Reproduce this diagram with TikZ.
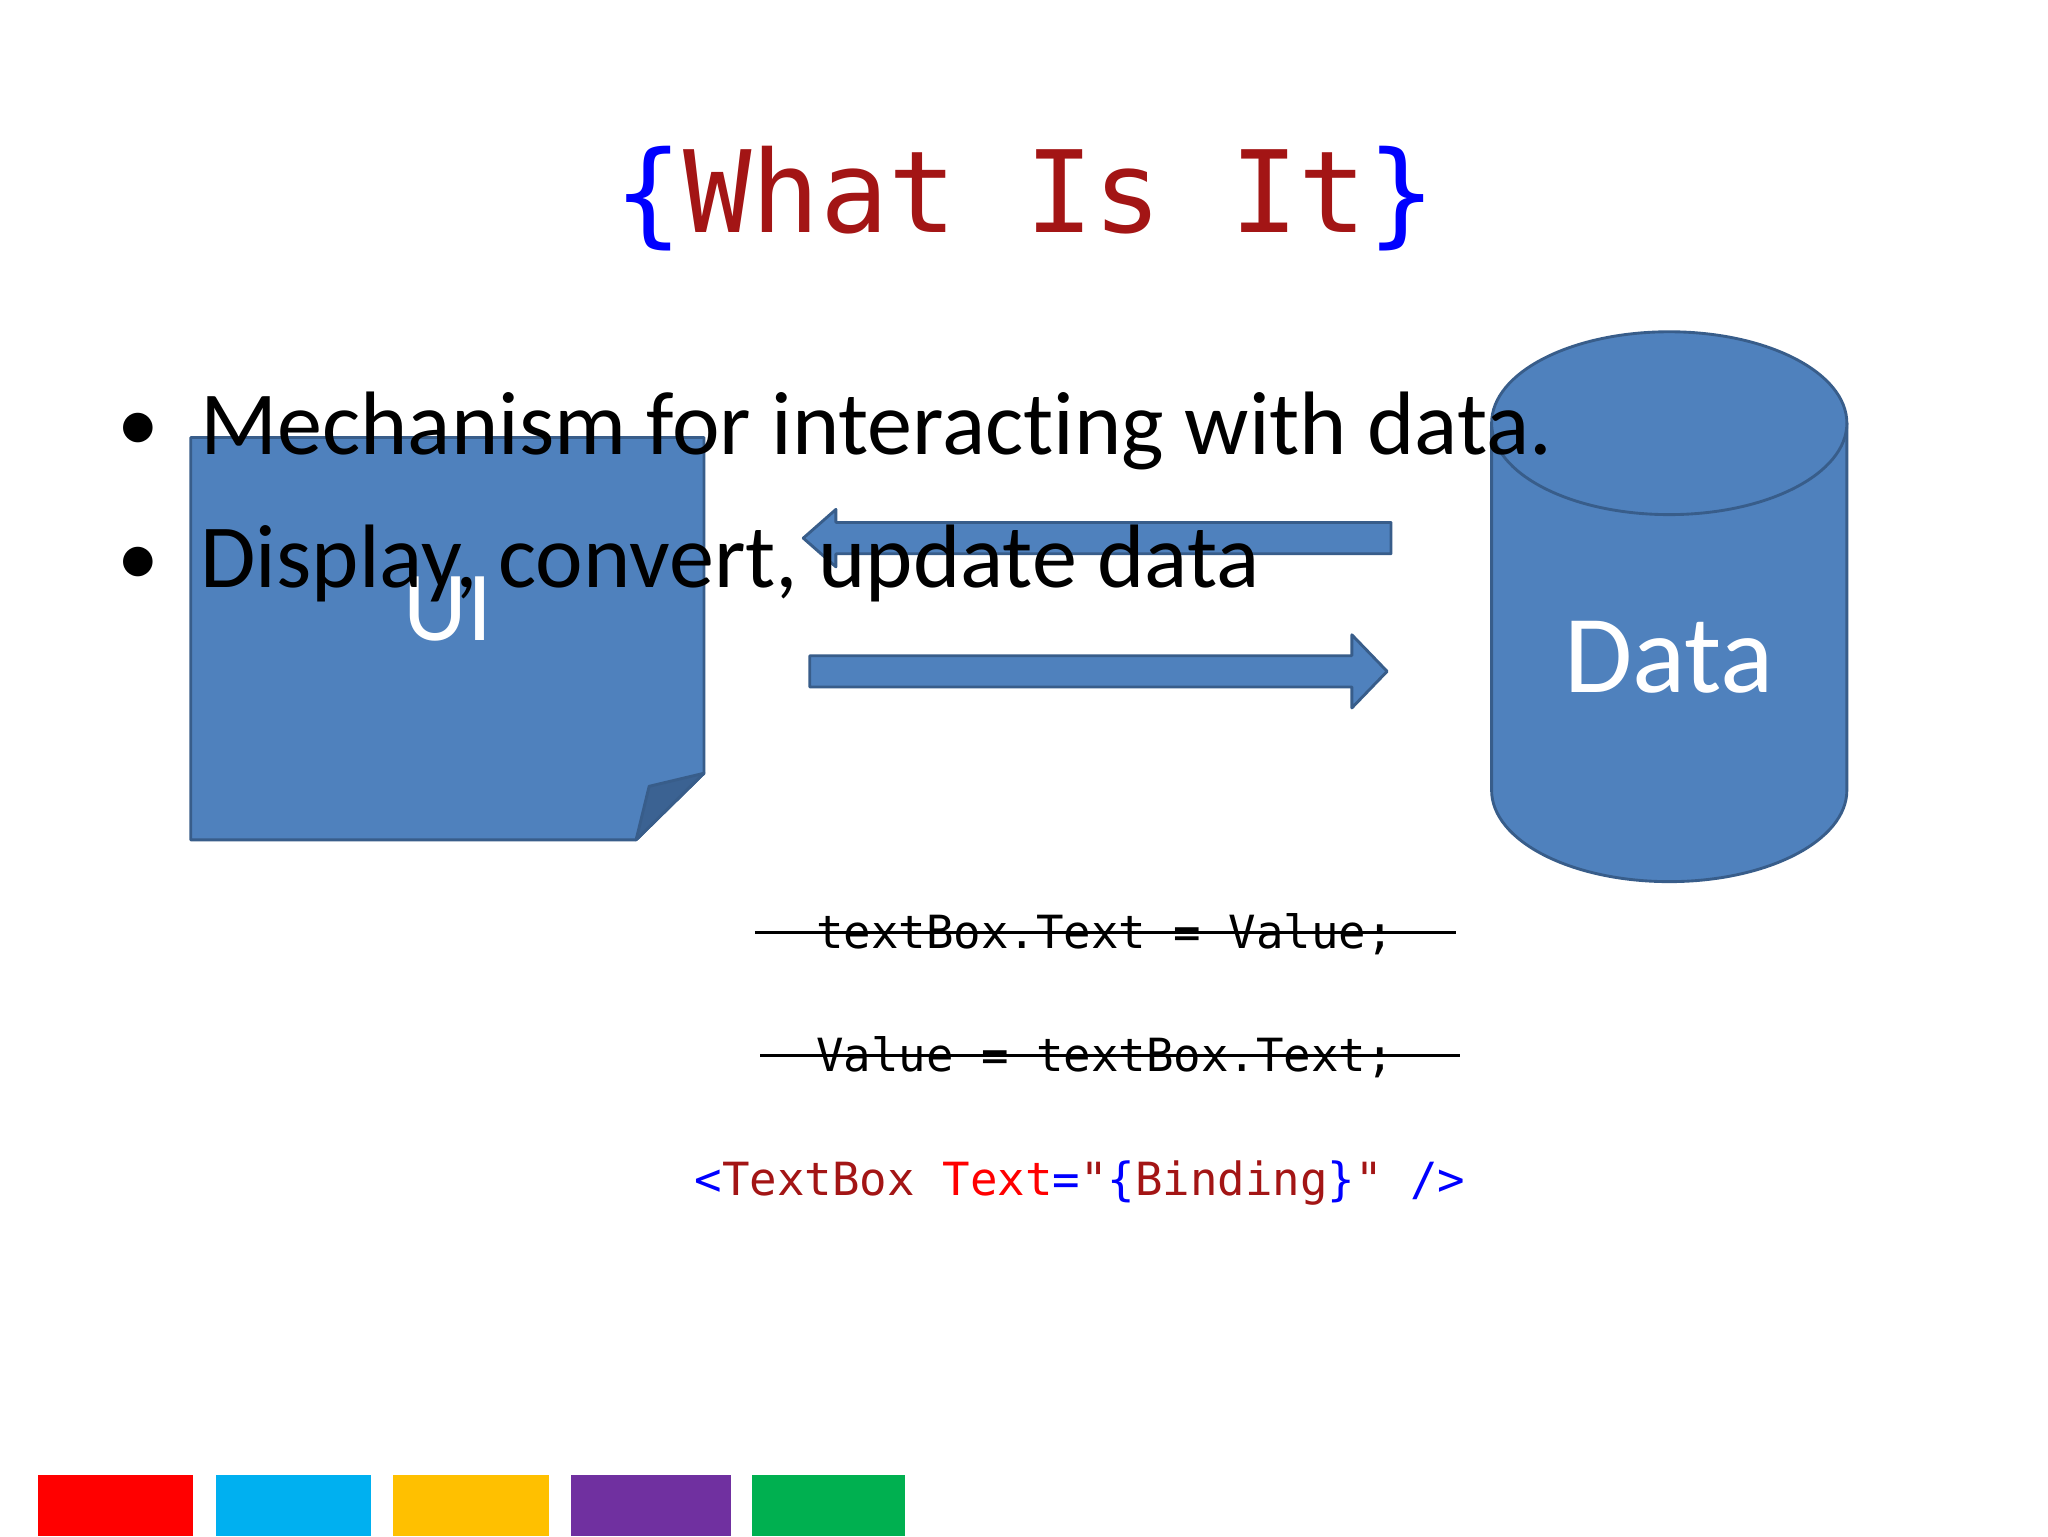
\documentclass[tikz,border=0pt]{standalone}
\usepackage{fontspec}
\setmainfont[RawFeature=-liga]{Carlito}
\newfontfamily\codefont{DejaVu Sans Mono}
\definecolor{fillb}{HTML}{4F81BD}
\definecolor{lineb}{HTML}{385D8A}
\definecolor{dred}{HTML}{A31515}
\definecolor{kblue}{HTML}{0000FF}
\tikzset{bluefig/.style={fill=fillb,draw=lineb,line width=2.2pt,line join=round},
  code/.style={font=\codefont\fontsize{35}{40}\selectfont,anchor=base},
  bul/.style={font=\fontsize{69}{75}\selectfont,anchor=base west}}
\begin{document}
\begin{tikzpicture}[x=1pt,y=-1pt]
\useasboundingbox (0,0) rectangle (1568,1176);
\fill[white] (0,0) rectangle (1568,1176);
% title
\node[font=\codefont\fontsize{87}{90}\selectfont,anchor=base] (title) at (785,178) {\textcolor{kblue}{\{}\textcolor{dred}{What Is It}\textcolor{kblue}{\}}};
% UI folded box
\draw[bluefig] (146,335) -- (539,335) -- (539,592) -- (487,643) -- (146,643) -- cycle;
\draw[bluefig,fill=lineb!85!fillb] (539,592) -- (497,602) -- (487,643) -- cycle;
\node[white,font=\fontsize{76}{76}\selectfont] (ui) at (343,466) {UI};
% cylinder
\draw[bluefig] (1142,324) -- (1142,605) arc[start angle=180,end angle=0,x radius=136,y radius=70] -- (1414,324);
\draw[bluefig] (1278,324) ellipse[x radius=136,y radius=70];
\node[white,font=\fontsize{85}{85}\selectfont] (data) at (1278,503) {Data};
% arrows
\draw[bluefig] (1065,400) -- (640,400) -- (640,390) -- (615,412) -- (640,434) -- (640,424) -- (1065,424) -- cycle;
\draw[bluefig] (620,502) -- (1035,502) -- (1035,486) -- (1062,514) -- (1035,542) -- (1035,526) -- (620,526) -- cycle;
% bullets
\node[font=\fontsize{64}{70}\selectfont,anchor=base] (b1) at (106,346) {•};
\node[bul] (t1) at (150,348) {Mechanism for interacting with data.};
\node[font=\fontsize{64}{70}\selectfont,anchor=base] (b2) at (106,448) {•};
\node[bul] (t2) at (150,450) {Display, convert, update data};
% code
\node[code] (c1) at (846,726) {textBox.Text = Value;};
\draw[line width=2.5pt] (578,714) -- (1115,714);
\node[code] (c2) at (846,820) {Value = textBox.Text;};
\draw[line width=2.5pt] (582,808) -- (1118,808);
\node[code] (c3) at (827,915) {\textcolor{kblue}{<}\textcolor{dred}{TextBox} \textcolor{red}{Text}\textcolor{kblue}{=}\textcolor{dred}{"}\textcolor{kblue}{\{}\textcolor{dred}{Binding}\textcolor{kblue}{\}}\textcolor{dred}{"} \textcolor{kblue}{/>}};
% squares
\fill[red] (29,1129) rectangle (148,1176);
\fill[color={rgb,255:red,0;green,176;blue,240}] (165,1129) rectangle (284,1176);
\fill[color={rgb,255:red,255;green,192;blue,0}] (301,1129) rectangle (420,1176);
\fill[color={rgb,255:red,112;green,48;blue,160}] (437,1129) rectangle (560,1176);
\fill[color={rgb,255:red,0;green,176;blue,80}] (576,1129) rectangle (693,1176);
\end{tikzpicture}
\end{document}
